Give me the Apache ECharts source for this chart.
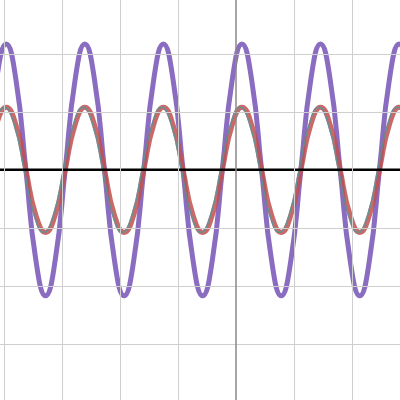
<!DOCTYPE html>
<html>
<head>
<meta charset="utf-8">
<script src="https://cdn.jsdelivr.net/npm/echarts@6/dist/echarts.min.js"></script>
<style>html,body{margin:0;padding:0;background:#fff}#chart{width:400px;height:400px}</style>
</head>
<body>
<div id="chart"></div>
<script>
// sample points every 1/8 period
var xStart = -4.301;
var xStep = 0.1694;
var redVals = [0, 0.77, 1.08, 0.77, 0, -0.77, -1.08, -0.77,
	0, 0.77, 1.08, 0.77, 0, -0.77, -1.08, -0.77,
	0, 0.77, 1.08, 0.77, 0, -0.77, -1.08, -0.77,
	0, 0.77, 1.08, 0.77, 0, -0.77, -1.08, -0.77,
	0, 0.77, 1.08, 0.77, 0, -0.77, -1.08, -0.77,
	0, 0.77, 1.08, 0.77, 0];
var tealVals = redVals.slice();
var purpleVals = [0, 1.54, 2.17, 1.54, 0, -1.54, -2.17, -1.54,
	0, 1.54, 2.17, 1.54, 0, -1.54, -2.17, -1.54,
	0, 1.54, 2.17, 1.54, 0, -1.54, -2.17, -1.54,
	0, 1.54, 2.17, 1.54, 0, -1.54, -2.17, -1.54,
	0, 1.54, 2.17, 1.54, 0, -1.54, -2.17, -1.54,
	0, 1.54, 2.17, 1.54, 0];
var gridX = [-4, -3, -2, -1, 1, 2];
var gridY = [-3, -2, -1, 1, 2];

function pairs(vals, shift) {
	var result = [];
	for (var i = 0; i < vals.length; i++) {
		result.push([xStart + i * xStep + shift, vals[i]]);
	}
	return result;
}

var gridLines = [];
for (var i = 0; i < gridX.length; i++) gridLines.push({xAxis: gridX[i]});
for (var j = 0; j < gridY.length; j++) gridLines.push({yAxis: gridY[j]});

var myChart = echarts.init(document.getElementById('chart'));
var option = {
	animation: false,
	grid: {left: 0, right: 0, top: 0, bottom: 0},
	xAxis: {type: 'value', min: -4.07, max: 2.83, show: false},
	yAxis: {type: 'value', min: -3.97, max: 2.93, show: false},
	series: [{
		type: 'line', data: [], silent: true,
		markLine: {
			silent: true, symbol: 'none', label: {show: false},
			lineStyle: {color: '#cfcfcf', width: 1, type: 'solid'},
			data: gridLines.concat([{xAxis: 0, lineStyle: {color: '#888', width: 1.5}}])
		}
	}, {
		name: 'purple', type: 'line', smooth: 0.5, showSymbol: false,
		lineStyle: {color: '#8a6cc0', width: 5}, data: pairs(purpleVals, 0)
	}, {
		name: 'red', type: 'line', smooth: 0.5, showSymbol: false,
		lineStyle: {color: '#c0504d', width: 5, opacity: 0.85}, data: pairs(redVals, 0)
	}, {
		name: 'teal', type: 'line', smooth: 0.5, showSymbol: false,
		lineStyle: {color: '#4f9aa0', width: 1.5, opacity: 0.8}, data: pairs(tealVals, -0.03)
	}, {
		name: 'zero', type: 'line', showSymbol: false,
		lineStyle: {color: '#000', width: 2.5}, data: [[-4.07, 0], [2.83, 0]]
	}]
};
myChart.setOption(option);
</script>
</body>
</html>
